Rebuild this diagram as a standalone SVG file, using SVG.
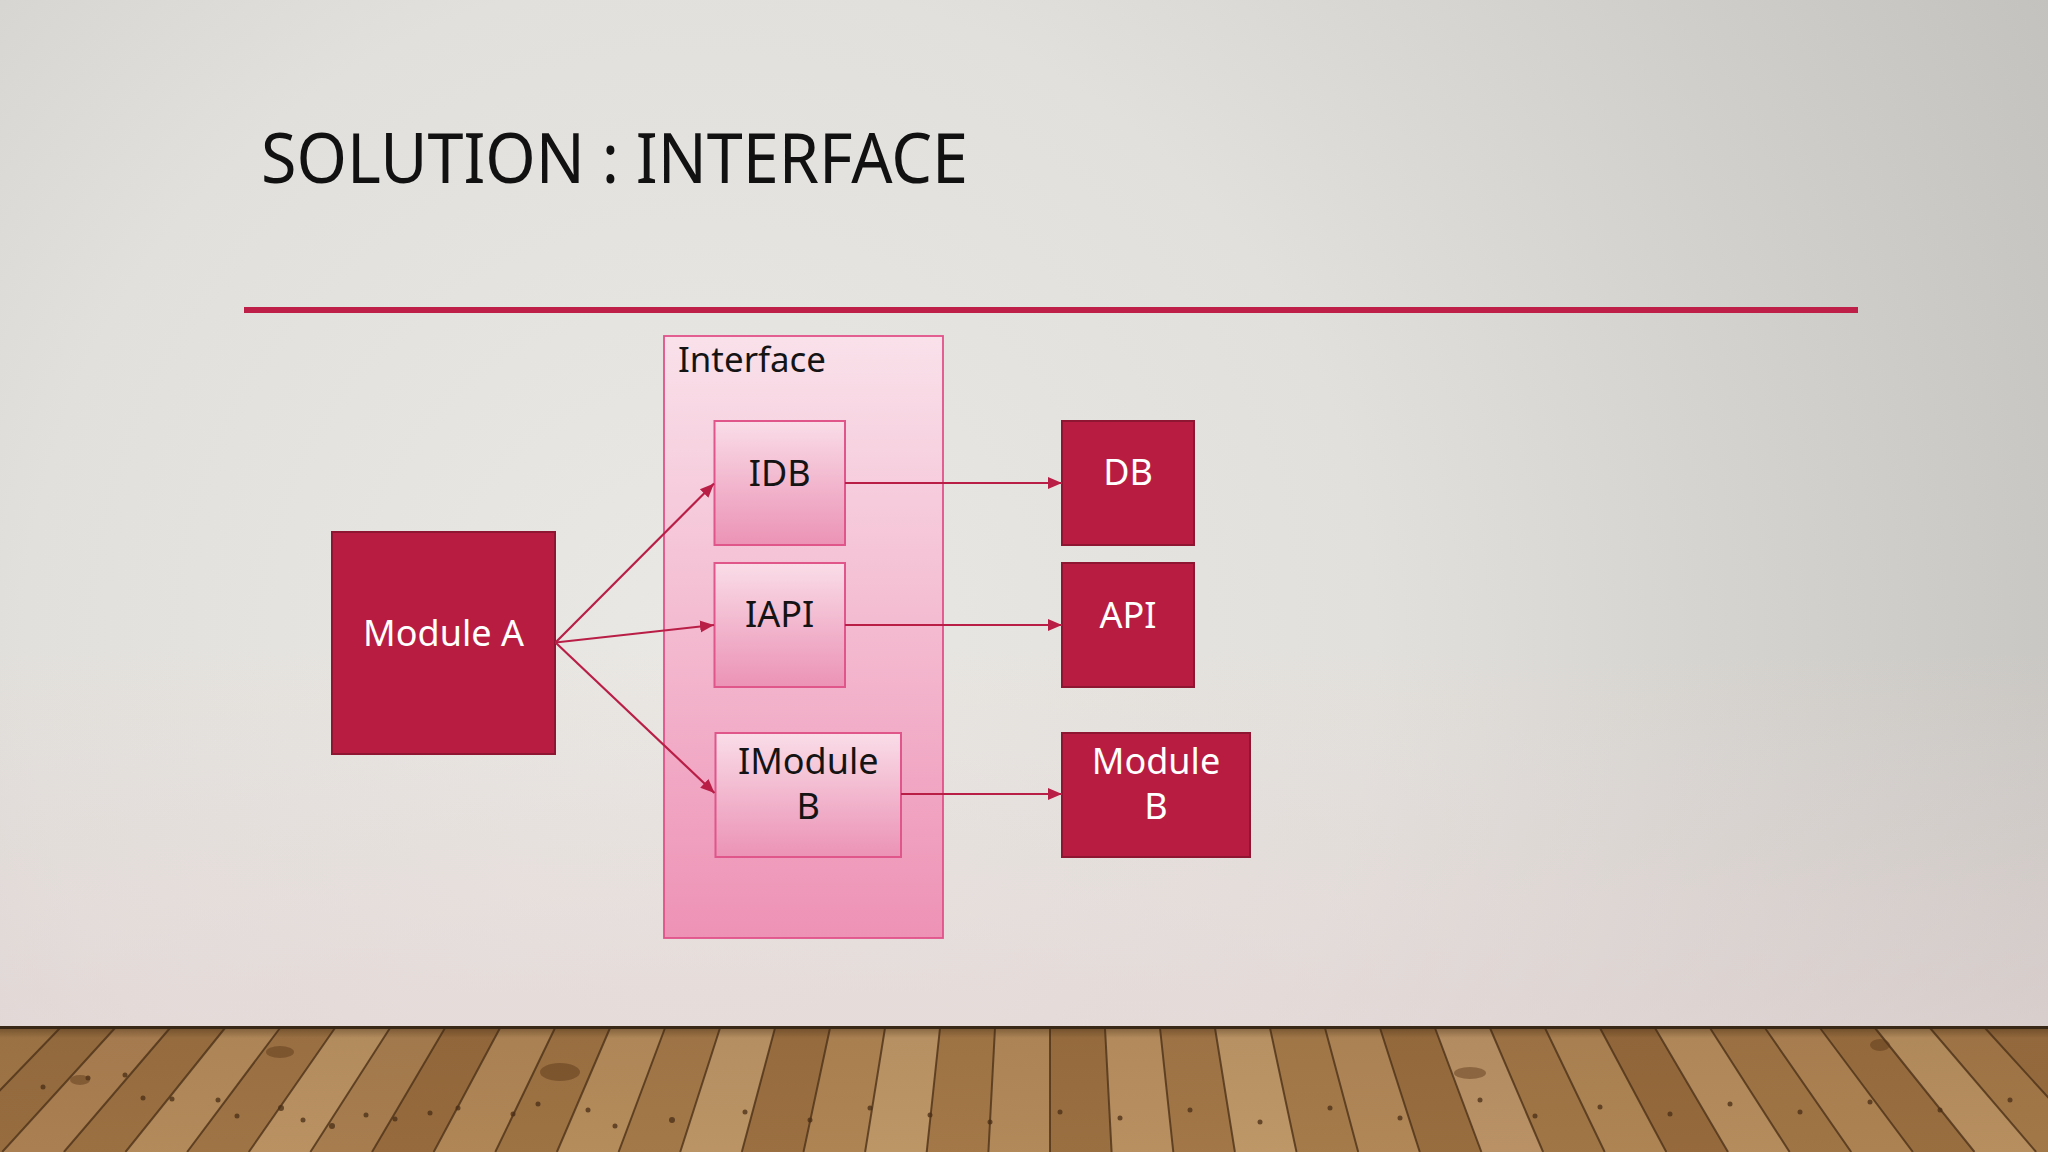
<svg xmlns="http://www.w3.org/2000/svg" width="2048" height="1152" viewBox="0 0 2048 1152">
<defs>
<radialGradient id="wall" cx="700" cy="650" r="1500" gradientUnits="userSpaceOnUse">
<stop offset="0" stop-color="#eae8e4"/>
<stop offset="0.45" stop-color="#e2e0dc"/>
<stop offset="1" stop-color="#c4c2be"/>
</radialGradient>
<linearGradient id="wallLow" x1="0" y1="650" x2="0" y2="1028" gradientUnits="userSpaceOnUse">
<stop offset="0" stop-color="#e6d6d6" stop-opacity="0"/>
<stop offset="1" stop-color="#e6d6d6" stop-opacity="0.55"/>
</linearGradient>
<linearGradient id="ifaceG" x1="0" y1="0" x2="0" y2="1">
<stop offset="0" stop-color="#f9e1ea"/>
<stop offset="1" stop-color="#ee92b5"/>
</linearGradient>
<linearGradient id="innerG" x1="0" y1="0" x2="0" y2="1">
<stop offset="0" stop-color="#fadde8"/>
<stop offset="0.55" stop-color="#f1b3cb"/>
<stop offset="1" stop-color="#ec93b5"/>
</linearGradient>
<linearGradient id="floorShade" x1="0" y1="1028" x2="0" y2="1152" gradientUnits="userSpaceOnUse">
<stop offset="0" stop-color="#3a2410" stop-opacity="0.45"/>
<stop offset="0.08" stop-color="#3a2410" stop-opacity="0.1"/>
<stop offset="1" stop-color="#3a2410" stop-opacity="0.05"/>
</linearGradient>
<marker id="arrow" markerUnits="userSpaceOnUse" markerWidth="16" markerHeight="14" viewBox="0 0 16 14" refX="14" refY="7" orient="auto">
<path d="M0,1 L14,7 L0,13 Z" fill="#b91e47"/>
</marker>
<style>
.mod{fill:#b91c41;stroke:#8e1633;stroke-width:2}
.inner{fill:url(#innerG);stroke:#e0558a;stroke-width:2}
.lblW{font-family:"Noto Sans","Open Sans","DejaVu Sans",sans-serif;font-size:36px;fill:#ffffff;text-anchor:middle}
.lblB{font-family:"Noto Sans","Open Sans","DejaVu Sans",sans-serif;font-size:36px;fill:#141414;text-anchor:middle}
.conn{stroke:#b91e47;stroke-width:2.2;fill:none;marker-end:url(#arrow)}
.seam{stroke:#4e3219;stroke-width:2;fill:none;opacity:0.8}
</style>
</defs>

<!-- wall -->
<rect x="0" y="0" width="2048" height="1152" fill="url(#wall)"/>
<rect x="0" y="650" width="2048" height="378" fill="url(#wallLow)"/>

<!-- floor -->
<g id="floor">
<rect x="0" y="1028" width="2048" height="124" fill="#a57a49"/>
<polygon points="60,1028 115,1028 2.2,1152 -59.4,1152" fill="#9c7142"/>
<polygon points="115,1028 170,1028 63.9,1152 2.2,1152" fill="#b08455"/>
<polygon points="170,1028 225,1028 125.5,1152 63.9,1152" fill="#a07444"/>
<polygon points="225,1028 280,1028 187.1,1152 125.5,1152" fill="#b98f5e"/>
<polygon points="280,1028 335,1028 248.8,1152 187.1,1152" fill="#a47848"/>
<polygon points="335,1028 390,1028 310.4,1152 248.8,1152" fill="#c09766"/>
<polygon points="390,1028 445,1028 372,1152 310.4,1152" fill="#ad8252"/>
<polygon points="445,1028 500,1028 433.7,1152 372,1152" fill="#9b6e3f"/>
<polygon points="500,1028 555,1028 495.3,1152 433.7,1152" fill="#b68b5a"/>
<polygon points="555,1028 610,1028 556.9,1152 495.3,1152" fill="#a37746"/>
<polygon points="610,1028 665,1028 618.6,1152 556.9,1152" fill="#bb915f"/>
<polygon points="665,1028 720,1028 680.2,1152 618.6,1152" fill="#a97d4c"/>
<polygon points="720,1028 775,1028 741.8,1152 680.2,1152" fill="#c29a6a"/>
<polygon points="775,1028 830,1028 803.5,1152 741.8,1152" fill="#a07343"/>
<polygon points="830,1028 885,1028 865.1,1152 803.5,1152" fill="#b58957"/>
<polygon points="885,1028 940,1028 926.7,1152 865.1,1152" fill="#c49c6b"/>
<polygon points="940,1028 995,1028 988.4,1152 926.7,1152" fill="#a97c4a"/>
<polygon points="995,1028 1050,1028 1050,1152 988.4,1152" fill="#b88e5d"/>
<polygon points="1050,1028 1105,1028 1111.6,1152 1050,1152" fill="#9f7343"/>
<polygon points="1105,1028 1160,1028 1173.3,1152 1111.6,1152" fill="#bf9564"/>
<polygon points="1160,1028 1215,1028 1234.9,1152 1173.3,1152" fill="#a87b4a"/>
<polygon points="1215,1028 1270,1028 1296.5,1152 1234.9,1152" fill="#c59d6c"/>
<polygon points="1270,1028 1325,1028 1358.2,1152 1296.5,1152" fill="#ab7f4d"/>
<polygon points="1325,1028 1380,1028 1419.8,1152 1358.2,1152" fill="#b78c5b"/>
<polygon points="1380,1028 1435,1028 1481.4,1152 1419.8,1152" fill="#9d7141"/>
<polygon points="1435,1028 1490,1028 1543.1,1152 1481.4,1152" fill="#c0976a"/>
<polygon points="1490,1028 1545,1028 1604.7,1152 1543.1,1152" fill="#a67a49"/>
<polygon points="1545,1028 1600,1028 1666.3,1152 1604.7,1152" fill="#b48957"/>
<polygon points="1600,1028 1655,1028 1728,1152 1666.3,1152" fill="#9a6d3e"/>
<polygon points="1655,1028 1710,1028 1789.6,1152 1728,1152" fill="#bb9160"/>
<polygon points="1710,1028 1765,1028 1851.2,1152 1789.6,1152" fill="#a57948"/>
<polygon points="1765,1028 1820,1028 1912.9,1152 1851.2,1152" fill="#b38756"/>
<polygon points="1820,1028 1875,1028 1974.5,1152 1912.9,1152" fill="#9e7242"/>
<polygon points="1875,1028 1930,1028 2036.1,1152 1974.5,1152" fill="#bd9463"/>
<polygon points="1930,1028 1985,1028 2097.8,1152 2036.1,1152" fill="#a87c4b"/>
<polygon points="1985,1028 2060,1028 2160,1152 2097.8,1152" fill="#9c7041"/>
<path class="seam" d="M60,1028L-59.4,1152M115,1028L2.2,1152M170,1028L63.9,1152M225,1028L125.5,1152M280,1028L187.1,1152M335,1028L248.8,1152M390,1028L310.4,1152M445,1028L372,1152M500,1028L433.7,1152M555,1028L495.3,1152M610,1028L556.9,1152M665,1028L618.6,1152M720,1028L680.2,1152M775,1028L741.8,1152M830,1028L803.5,1152M885,1028L865.1,1152M940,1028L926.7,1152M995,1028L988.4,1152M1050,1028L1050,1152M1105,1028L1111.6,1152M1160,1028L1173.3,1152M1215,1028L1234.9,1152M1270,1028L1296.5,1152M1325,1028L1358.2,1152M1380,1028L1419.8,1152M1435,1028L1481.4,1152M1490,1028L1543.1,1152M1545,1028L1604.7,1152M1600,1028L1666.3,1152M1655,1028L1728,1152M1710,1028L1789.6,1152M1765,1028L1851.2,1152M1820,1028L1912.9,1152M1875,1028L1974.5,1152M1930,1028L2036.1,1152M1985,1028L2097.8,1152"/>
<g fill="#4a2e16" opacity="0.75">
<circle cx="43" cy="1087" r="2.5"/><circle cx="88" cy="1078" r="2.5"/><circle cx="125" cy="1075" r="2.5"/><circle cx="143" cy="1098" r="2.5"/><circle cx="172" cy="1099" r="2.5"/>
<circle cx="218" cy="1100" r="2.5"/><circle cx="237" cy="1116" r="2.5"/><circle cx="281" cy="1108" r="3"/><circle cx="303" cy="1120" r="2.5"/><circle cx="332" cy="1126" r="3"/>
<circle cx="366" cy="1115" r="2.5"/><circle cx="395" cy="1119" r="2.5"/><circle cx="430" cy="1113" r="2.5"/><circle cx="458" cy="1108" r="2.5"/><circle cx="513" cy="1114" r="2.5"/>
<circle cx="538" cy="1104" r="2.5"/><circle cx="588" cy="1110" r="2.5"/><circle cx="615" cy="1126" r="2.5"/><circle cx="672" cy="1120" r="3"/><circle cx="745" cy="1112" r="2.5"/>
<circle cx="810" cy="1120" r="2.5"/><circle cx="870" cy="1108" r="2.5"/><circle cx="930" cy="1115" r="2.5"/><circle cx="990" cy="1122" r="2.5"/><circle cx="1060" cy="1112" r="2.5"/>
<circle cx="1120" cy="1118" r="2.5"/><circle cx="1190" cy="1110" r="2.5"/><circle cx="1260" cy="1122" r="2.5"/><circle cx="1330" cy="1108" r="2.5"/><circle cx="1400" cy="1118" r="2.5"/>
<circle cx="1480" cy="1100" r="2.5"/><circle cx="1535" cy="1116" r="2.5"/><circle cx="1600" cy="1107" r="2.5"/><circle cx="1670" cy="1114" r="2.5"/><circle cx="1730" cy="1104" r="2.5"/>
<circle cx="1800" cy="1112" r="2.5"/><circle cx="1870" cy="1102" r="2.5"/><circle cx="1940" cy="1110" r="2.5"/><circle cx="2010" cy="1100" r="2.5"/>
</g>
<g fill="#5a3616" opacity="0.45">
<ellipse cx="80" cy="1080" rx="10" ry="5"/><ellipse cx="280" cy="1052" rx="14" ry="6"/><ellipse cx="560" cy="1072" rx="20" ry="9"/><ellipse cx="1470" cy="1073" rx="16" ry="6"/><ellipse cx="1880" cy="1045" rx="10" ry="6"/>
</g>
<rect x="0" y="1028" width="2048" height="124" fill="url(#floorShade)"/>
<rect x="0" y="1026" width="2048" height="3" fill="#3a2816"/>
</g>

<!-- title -->
<g id="title">
<text x="261" y="183" font-family="'Noto Sans','Open Sans','DejaVu Sans',sans-serif" font-size="70" fill="#111111" textLength="707" lengthAdjust="spacingAndGlyphs">SOLUTION : INTERFACE</text>
<rect x="244" y="307" width="1614" height="6" fill="#be1f48"/>
</g>

<!-- interface container -->
<g id="interface">
<rect x="664" y="336" width="279" height="602" fill="url(#ifaceG)" stroke="#e05189" stroke-width="1.8"/>
<text x="678" y="372" font-family="'Noto Sans','Open Sans','DejaVu Sans',sans-serif" font-size="34" fill="#141414" textLength="148" lengthAdjust="spacingAndGlyphs">Interface</text>
</g>

<g id="moduleA">
<rect class="mod" x="332" y="532" width="223" height="222"/>
<text class="lblW" x="443.5" y="646">Module A</text>
</g>

<g id="IDB">
<rect class="inner" x="714.5" y="421" width="130.5" height="124"/>
<text class="lblB" x="779.7" y="486">IDB</text>
</g>

<g id="IAPI">
<rect class="inner" x="714.5" y="563" width="130.5" height="124"/>
<text class="lblB" x="779.7" y="627">IAPI</text>
</g>

<g id="IModuleB">
<rect class="inner" x="715.5" y="733" width="185.5" height="124"/>
<text class="lblB" x="808.3" y="774">IModule<tspan x="808.3" dy="45">B</tspan></text>
</g>

<g id="DB">
<rect class="mod" x="1062" y="421" width="132" height="124"/>
<text class="lblW" x="1128" y="485">DB</text>
</g>

<g id="API">
<rect class="mod" x="1062" y="563" width="132" height="124"/>
<text class="lblW" x="1128" y="628">API</text>
</g>

<g id="ModuleB">
<rect class="mod" x="1062" y="733" width="188" height="124"/>
<text class="lblW" x="1156" y="774">Module<tspan x="1156" dy="45">B</tspan></text>
</g>

<g id="connectors">
<line class="conn" x1="555.5" y1="642.5" x2="714" y2="483.5"/>
<line class="conn" x1="555.5" y1="642.5" x2="714" y2="625"/>
<line class="conn" x1="555.5" y1="642.5" x2="714.5" y2="793"/>
<line class="conn" x1="845" y1="483" x2="1062" y2="483"/>
<line class="conn" x1="845" y1="625" x2="1062" y2="625"/>
<line class="conn" x1="901" y1="794" x2="1062" y2="794"/>
</g>
</svg>
